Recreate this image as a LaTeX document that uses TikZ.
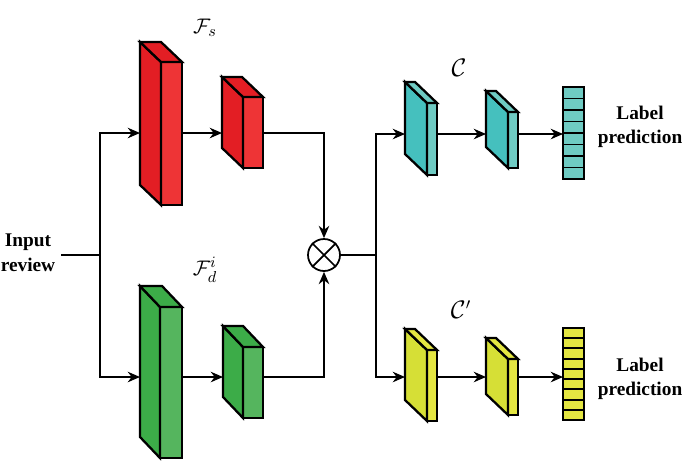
\documentclass[tikz,border=0pt]{standalone}
\usepackage{amsmath,amssymb}
\usepackage{fontspec}
\usepackage{xcolor}
\usepackage{tikz}
\usetikzlibrary{arrows.meta,positioning}
\newfontfamily\lblfont{Liberation Serif}

\definecolor{reddk}{HTML}{E31E24}
\definecolor{redlt}{HTML}{EE3436}
\definecolor{grndk}{HTML}{3CAC48}
\definecolor{grnlt}{HTML}{55B55E}
\definecolor{cyndk}{HTML}{45C0BE}
\definecolor{cynlt}{HTML}{6FCBC3}
\definecolor{ylwdk}{HTML}{D6DF36}
\definecolor{ylwlt}{HTML}{E4E642}

\begin{document}
\begin{tikzpicture}[
  x=0.02cm,y=-0.02cm,
  face/.style={draw,line width=1.3pt},
  front/.style={draw,line width=1.3pt,inner sep=0pt,outer sep=0pt,anchor=north west},
  wh/.style 2 args={minimum width=#1*0.02cm,minimum height=#2*0.02cm},
  cell/.style={line width=1.1pt},
  wire/.style={line width=0.9pt},
  arr/.style={-{Stealth[length=7pt,width=6pt]},line width=0.9pt},
  lbl/.style={font=\lblfont\fontsize{11}{14}\selectfont\bfseries,align=center},
  sym/.style={font=\fontsize{12.5}{14}\selectfont,inner sep=1pt},
  symc/.style={font=\fontsize{13.5}{15}\selectfont,inner sep=1pt}
]
  \useasboundingbox (0,0) rectangle (685,460);

  % shared branch F_s
  \node[front,fill=redlt,wh={21}{143}] (s1) at (161,62) {};
  \draw[face,fill=reddk] (s1.north west) -- ++(-21,-20) -- ++(0,143) -- (s1.south west) -- cycle;
  \draw[face,fill=reddk] (s1.north west) -- ++(-21,-20) -- ++(21,0) -- (s1.north east) -- cycle;
  \node[front,fill=redlt,wh={20}{71}] (s2) at (243,97) {};
  \draw[face,fill=reddk] (s2.north west) -- ++(-21,-20) -- ++(0,71) -- (s2.south west) -- cycle;
  \draw[face,fill=reddk] (s2.north west) -- ++(-21,-20) -- ++(20,0) -- (s2.north east) -- cycle;

  % domain branch F_d^i
  \node[front,fill=grnlt,wh={22}{151}] (d1) at (160,307) {};
  \draw[face,fill=grndk] (d1.north west) -- ++(-20,-21) -- ++(0,151) -- (d1.south west) -- cycle;
  \draw[face,fill=grndk] (d1.north west) -- ++(-20,-21) -- ++(22,0) -- (d1.north east) -- cycle;
  \node[front,fill=grnlt,wh={20}{71}] (d2) at (243,347) {};
  \draw[face,fill=grndk] (d2.north west) -- ++(-20,-21) -- ++(0,71) -- (d2.south west) -- cycle;
  \draw[face,fill=grndk] (d2.north west) -- ++(-20,-21) -- ++(20,0) -- (d2.north east) -- cycle;

  % classifier C
  \node[front,fill=cynlt,wh={10}{72}] (c1) at (427,103) {};
  \draw[face,fill=cyndk] (c1.north west) -- ++(-22,-21) -- ++(0,72) -- (c1.south west) -- cycle;
  \draw[face,fill=cynlt] (c1.north west) -- ++(-22,-21) -- ++(10,0) -- (c1.north east) -- cycle;
  \node[front,fill=cynlt,wh={10}{56}] (c2) at (508,112) {};
  \draw[face,fill=cyndk] (c2.north west) -- ++(-22,-21) -- ++(0,56) -- (c2.south west) -- cycle;
  \draw[face,fill=cynlt] (c2.north west) -- ++(-22,-21) -- ++(10,0) -- (c2.north east) -- cycle;
  \node[front,fill=cynlt,wh={21}{92}] (lc) at (563,87) {};
  \foreach \k in {1,...,7}
    \draw[cell] (lc.north west) ++(0,\k*11.5) -- ++(21,0);

  % classifier C'
  \node[front,fill=ylwlt,wh={10}{71}] (y1) at (427,350) {};
  \draw[face,fill=ylwdk] (y1.north west) -- ++(-22,-21) -- ++(0,71) -- (y1.south west) -- cycle;
  \draw[face,fill=ylwlt] (y1.north west) -- ++(-22,-21) -- ++(10,0) -- (y1.north east) -- cycle;
  \node[front,fill=ylwlt,wh={10}{56}] (y2) at (508,359) {};
  \draw[face,fill=ylwdk] (y2.north west) -- ++(-22,-21) -- ++(0,56) -- (y2.south west) -- cycle;
  \draw[face,fill=ylwlt] (y2.north west) -- ++(-22,-21) -- ++(10,0) -- (y2.north east) -- cycle;
  \node[front,fill=ylwlt,wh={21}{92}] (ly) at (563,328) {};
  \foreach \k in {1,...,8}
    \draw[cell] (ly.north west) ++(0,\k*92/9) -- ++(21,0);

  % entry points and junctions
  \coordinate (split) at (100,255);
  \coordinate (s1in) at (140,133);
  \coordinate (s2in) at (222,133);
  \coordinate (d1in) at (140,377);
  \coordinate (d2in) at (223,377);
  \coordinate (join) at (376,255);
  \coordinate (c1in) at (405,134);
  \coordinate (c2in) at (486,134);
  \coordinate (y1in) at (405,377);
  \coordinate (y2in) at (486,377);

  \node[draw,circle,line width=1pt,minimum size=0.64cm,inner sep=0pt] (mul) at (324,255) {};
  \draw[line width=1pt] (mul.north east) -- (mul.south west) (mul.north west) -- (mul.south east);

  % texts
  \node[lbl] (inp) at (28,253) {Input\\review};
  \node[lbl] (lp1) at (640,127) {Label\\prediction};
  \node[lbl] (lp2) at (640,379) {Label\\prediction};
  \node[sym] (fslbl) at (205,28) {$\mathcal{F}_s$};
  \node[sym] (fdlbl) at (205,270) {$\mathcal{F}_d^i$};
  \node[symc] (clbl) at (459,68) {$\mathcal{C}$};
  \node[symc] (cplbl) at (461,310) {$\mathcal{C}'$};

  % connectors
  \draw[wire] (inp.east |- split) -- (split);
  \draw[arr] (split) |- (s1in);
  \draw[arr] (split) |- (d1in);
  \draw[arr] (s1.east |- s1in) -- (s2in);
  \draw[arr] (d1.east |- d1in) -- (d2in);
  \draw[arr] (s2.east |- s2in) -| (mul.north);
  \draw[arr] (d2.east |- d2in) -| (mul.south);
  \draw[wire] (mul.east) -- (join);
  \draw[arr] (join) |- (c1in);
  \draw[arr] (join) |- (y1in);
  \draw[arr] (c1.east |- c1in) -- (c2in);
  \draw[arr] (y1.east |- y1in) -- (y2in);
  \draw[arr] (c2.east |- c2in) -- (lc.west |- c2in);
  \draw[arr] (y2.east |- y2in) -- (ly.west |- y2in);
\end{tikzpicture}
\end{document}
